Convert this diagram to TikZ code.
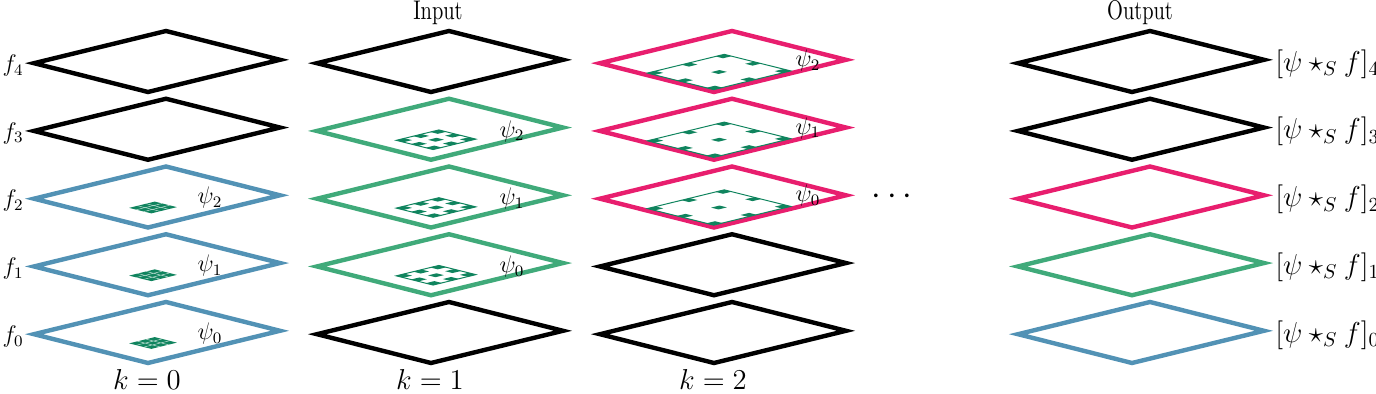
\documentclass[tikz,border=0pt]{standalone}
\usepackage{amsmath}
\usepackage{graphicx}
\definecolor{cblue}{RGB}{82,146,181}
\definecolor{cgreen}{RGB}{64,170,122}
\definecolor{cpink}{RGB}{232,30,110}
\definecolor{ckern}{RGB}{16,132,94}
% plane: centre x, centre y, style, name
\newcommand\myplane[4]{%
  \draw[#3] (#1-123,#2+1.7) coordinate (#4-L) -- (#1+9,#2-30.5) coordinate (#4-T)
    -- (#1+123,#2-1.7) coordinate (#4-R) -- (#1-9,#2+30.5) coordinate (#4-B) -- cycle;}
% kernel: centre x, centre y, dilation
\newcommand\mykernel[3]{%
  \begin{scope}[shift={(#1-4,#2+10.5)},x={(3.69pt,-0.92pt)},y={(4.27pt,1.04pt)}]
    \ifnum#3>1
      \draw[ckern,line width=0.5pt] (-#3-0.5,-#3-0.5) -- (#3+0.5,-#3-0.5) -- (#3+0.5,#3+0.5) -- (-#3-0.5,#3+0.5) -- cycle;
    \fi
    \foreach \i in {-1,0,1}{\foreach \j in {-1,0,1}{
      \fill[ckern] ({\i*#3-0.5},{\j*#3-0.5}) -- ++(1,0) -- ++(0,1) -- ++(-1,0) -- cycle;}}
    \ifnum#3=1
      \draw[white,line width=0.25pt,opacity=0.6] (-1.5,-0.5) -- (1.5,-0.5) (-1.5,0.5) -- (1.5,0.5)
        (-0.5,-1.5) -- (-0.5,1.5) (0.5,-1.5) -- (0.5,1.5);
    \fi
  \end{scope}}
\begin{document}
\begin{tikzpicture}[x=0.5pt,y=-0.5pt,
  plane/.style={line width=2.2pt,line join=miter},
  blk/.style={plane,draw=black},
  blu/.style={plane,draw=cblue},
  grn/.style={plane,draw=cgreen},
  pnk/.style={plane,draw=cpink},
  psil/.style={inner sep=0pt,font=\large},
  fl/.style={inner sep=0pt,anchor=east,font=\large},
  outl/.style={inner sep=0pt,anchor=west,font=\fontsize{13.6}{16}\selectfont},
  kl/.style={inner sep=0pt,font=\Large},
  ttl/.style={inner sep=0pt}]
\useasboundingbox (0,0) rectangle (1376,394);
% column 0 (k=0)
\myplane{157}{332.5}{blu}{a0}
\myplane{157}{264.75}{blu}{a1}
\myplane{157}{197}{blu}{a2}
\myplane{157}{129.25}{blk}{a3}
\myplane{157}{61.5}{blk}{a4}
\mykernel{157}{332.5}{1}
\mykernel{157}{264.75}{1}
\mykernel{157}{197}{1}
\node[psil] (pa0) at (210,333.5) {$\psi_0$};
\node[psil] (pa1) at (210,265.75) {$\psi_1$};
\node[psil] (pa2) at (210,198) {$\psi_2$};
% column 1 (k=1)
\myplane{440}{332.5}{blk}{b0}
\myplane{440}{264.75}{grn}{b1}
\myplane{440}{197}{grn}{b2}
\myplane{440}{129.25}{grn}{b3}
\myplane{440}{61.5}{blk}{b4}
\mykernel{440}{264.75}{2}
\mykernel{440}{197}{2}
\mykernel{440}{129.25}{2}
\node[psil] (pb1) at (512,266.75) {$\psi_0$};
\node[psil] (pb2) at (512,199) {$\psi_1$};
\node[psil] (pb3) at (512,131.25) {$\psi_2$};
% column 2 (k=2)
\myplane{723}{332.5}{blk}{c0}
\myplane{723}{264.75}{blk}{c1}
\myplane{723}{197}{pnk}{c2}
\myplane{723}{129.25}{pnk}{c3}
\myplane{723}{61.5}{pnk}{c4}
\mykernel{723}{197}{4}
\mykernel{723}{129.25}{4}
\mykernel{723}{61.5}{4}
\node[psil] (pc2) at (808,196) {$\psi_0$};
\node[psil] (pc3) at (808,128.25) {$\psi_1$};
\node[psil] (pc4) at (808,60.5) {$\psi_2$};
% output
\myplane{1141}{332.5}{blu}{d0}
\myplane{1141}{264.75}{grn}{d1}
\myplane{1141}{197}{pnk}{d2}
\myplane{1141}{129.25}{blk}{d3}
\myplane{1141}{61.5}{blk}{d4}
% f labels
\node[fl] (f0) at (24,336.5) {$f_0$};
\node[fl] (f1) at (24,268.75) {$f_1$};
\node[fl] (f2) at (24,201) {$f_2$};
\node[fl] (f3) at (24,133.25) {$f_3$};
\node[fl] (f4) at (24,65.5) {$f_4$};
% output labels
\node[outl] (o0) at (1275,335) {$[\psi\star_S f]_0$};
\node[outl] (o1) at (1275,267.25) {$[\psi\star_S f]_1$};
\node[outl] (o2) at (1275,199.5) {$[\psi\star_S f]_2$};
\node[outl] (o3) at (1275,131.75) {$[\psi\star_S f]_3$};
\node[outl] (o4) at (1275,64) {$[\psi\star_S f]_4$};
% k labels
\node[kl] (k0) at (147,380) {$k=0$};
\node[kl] (k1) at (430,380) {$k=1$};
\node[kl] (k2) at (713,380) {$k=2$};
% titles
\node[ttl] (inp) at (438,13) {\scalebox{1.02}[1.35]{Input}};
\node[ttl] (outp) at (1140,13) {\scalebox{1.02}[1.35]{Output}};
\node[inner sep=0pt,font=\LARGE] (dots) at (895,197) {$\cdots$};
\end{tikzpicture}
\end{document}
